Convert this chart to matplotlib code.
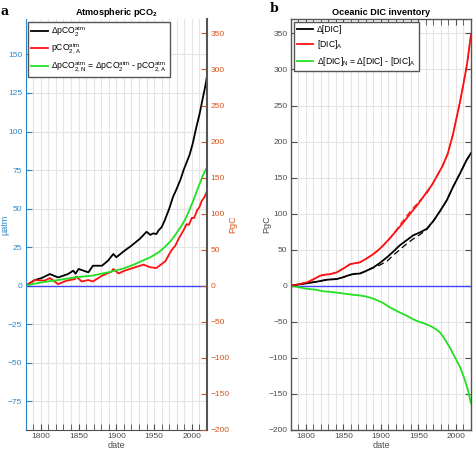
import numpy as np
import matplotlib
matplotlib.use("Agg")
import matplotlib.pyplot as plt
from matplotlib.ticker import MultipleLocator

plt.rcParams["font.family"] = ["Liberation Sans", "DejaVu Sans"]
plt.rcParams["mathtext.fontset"] = "custom"
plt.rcParams["mathtext.rm"] = "Liberation Sans"
plt.rcParams["mathtext.default"] = "regular"

# panel a: atmospheric pCO2 (uatm)
yr_dp = [1780, 1792, 1801, 1812, 1823, 1836, 1843, 1846, 1850, 1863, 1869, 1881, 1889, 1896,
         1900, 1911, 1920, 1931, 1940, 1945, 1949, 1953, 1956, 1960, 1964, 1970, 1975, 1980,
         1985, 1989, 1993, 1997, 2001, 2006, 2010, 2015, 2018, 2020]
dpco2 = [0, 3.7, 5.0, 7.6, 5.4, 7.6, 9.8, 7.8, 10.9, 8.7, 13.0, 13.0, 16.3, 20.6,
         18.5, 22.8, 26.0, 30.4, 35.0, 33.0, 34.0, 33.5, 36.0, 38.0, 42.4, 50.0, 57.6, 63.0,
         69.0, 75.0, 80.0, 85.0, 92.0, 103.0, 111.0, 123.0, 130.0, 136.0]

yr_dpn = [1780, 1790, 1801, 1812, 1823, 1834, 1845, 1856, 1867, 1878, 1889, 1900, 1911, 1922,
          1933, 1945, 1956, 1965, 1972, 1978, 1985, 1990, 1994, 2000, 2004, 2007, 2011, 2015,
          2020]
dpco2_n = [0, 1.2, 2.2, 3.0, 3.7, 4.6, 5.4, 6.0, 6.5, 7.6, 8.7, 10.0, 11.5, 13.5,
           15.9, 18.5, 21.7, 25.5, 29.0, 33.0, 38.0, 42.0, 46.0, 53.0, 58.0, 62.0, 67.0, 72.0,
           77.0]

yr_pa = [1780, 1792, 1805, 1812, 1823, 1834, 1845, 1847, 1854, 1863, 1869, 1881, 1894, 1896,
         1903, 1911, 1925, 1936, 1945, 1953, 1960, 1965, 1969, 1973, 1978, 1983, 1989, 1993,
         1996, 2000, 2003, 2007, 2010, 2013, 2016, 2020]
pco2_a = [0, 3.7, 3.3, 5.0, 1.1, 3.3, 4.3, 6.0, 2.8, 3.7, 2.8, 6.5, 9.3, 10.9,
          8.0, 9.8, 12.0, 13.7, 12.0, 11.5, 14.1, 16.0, 19.6, 23.0, 26.0, 31.0, 36.0, 40.0,
          39.5, 44.0, 44.0, 49.0, 51.0, 55.0, 57.0, 61.0]

# panel b: oceanic DIC inventory (PgC)
yr_dic = [1780, 1790, 1801, 1814, 1828, 1841, 1850, 1859, 1865, 1872, 1880, 1890, 1899, 1908,
          1916, 1925, 1934, 1943, 1952, 1961, 1970, 1979, 1988, 1996, 2005, 2014, 2020]
dic = [0, 1.8, 3.5, 5.6, 8.4, 9.3, 12.0, 15.3, 16.5, 17.0, 20.5, 25.5, 32.0, 39.5,
       47.0, 56.0, 63.0, 70.0, 74.0, 79.0, 90.0, 104.0, 119.0, 137.0, 155.0, 174.0, 184.0]
dic_model = [0, 1.8, 3.5, 5.6, 8.4, 9.3, 12.0, 15.3, 16.5, 17.0, 20.5, 25.0, 29.0, 34.0,
             42.0, 50.0, 58.0, 65.0, 71.0, 78.0, 90.0, 104.0, 119.0, 137.0, 155.0, 174.0, 184.0]

yr_dica = [1780, 1790, 1801, 1810, 1819, 1826, 1832, 1841, 1850, 1859, 1866, 1872, 1881, 1890,
           1897, 1903, 1912, 1921, 1930, 1939, 1950, 1961, 1968, 1974, 1982, 1989, 1996, 2005,
           2010, 2015, 2020]
dic_a = [0, 2.0, 4.6, 9.0, 14.0, 15.5, 16.0, 18.6, 24.0, 30.0, 31.5, 32.5, 38.0, 44.0,
         50.0, 56.0, 66.0, 77.0, 88.0, 100.0, 114.0, 130.0, 140.0, 151.0, 166.0, 183.0, 210.0,
         253.0, 280.0, 309.0, 348.0]
dic_a_model = [0, 2.0, 4.6, 9.0, 14.0, 15.5, 16.0, 18.6, 24.0, 30.0, 31.5, 32.5, 38.0, 44.0,
               50.0, 56.0, 66.0, 78.0, 91.0, 103.0, 116.0, 128.0, 140.0, 151.0, 166.0, 183.0,
               210.0, 253.0, 280.0, 309.0, 348.0]

yr_dicn = [1780, 1790, 1800, 1814, 1822, 1832, 1845, 1855, 1863, 1872, 1881, 1890, 1897, 1903,
           1912, 1921, 1928, 1935, 1942, 1948, 1957, 1966, 1973, 1979, 1985, 1992, 1999, 2006,
           2012, 2016, 2020]
dic_n = [0, -2.0, -4.0, -5.6, -7.5, -8.4, -10.0, -11.5, -12.5, -13.5, -15.0, -18.0, -21.0,
         -24.0, -30.0, -34.9, -38.5, -41.9, -46.0, -48.8, -52.0, -55.8, -60.0, -65.0, -74.0,
         -86.0, -100.0, -114.0, -131.0, -145.0, -163.0]

BLUE = "#2E86C8"
ORANGE = "#D95319"
GRAY = "#4d4d4d"
RED = "#FF1010"
GREEN = "#22E022"
ZERO = "#4444FF"
GRID = "#e4e4e4"

fig = plt.figure(figsize=(4.74, 4.51), dpi=100)
axa = fig.add_axes([0.0542, 0.0466, 0.3825, 0.9113])
axb = fig.add_axes([0.6139, 0.0466, 0.3797, 0.9113])

ratio = 2.139  # PgC per uatm
TS = 6.0
LS = 6.5

# ---- panel a ----
axa.plot([1780, 2020], [0, 0], color=ZERO, lw=1.0)
axa.plot(yr_dp, dpco2, color="k", lw=1.3, label=r"ΔpCO$_2^{atm}$")
axa.plot(yr_pa, pco2_a, color=RED, lw=1.3, label=r"pCO$_{2,A}^{atm}$")
axa.plot(yr_dpn, dpco2_n, color=GREEN, lw=1.3,
         label=r"ΔpCO$_{2,N}^{atm}$ = ΔpCO$_2^{atm}$ - pCO$_{2,A}^{atm}$")
axa.set_xlim(1780, 2020)
axa.set_ylim(-200 / ratio, 370 / ratio)
axa.set_yticks(np.arange(-75, 151, 25))
axa.xaxis.set_major_locator(MultipleLocator(50))
axa.xaxis.set_minor_locator(MultipleLocator(10))
axa.grid(True, which="both", axis="x", color=GRID, lw=0.8)
axa.grid(True, which="major", axis="y", color=GRID, lw=0.8)
axa.set_axisbelow(True)
axa.tick_params(axis="y", colors=BLUE, direction="in", labelsize=TS, length=4, pad=2.5)
axa.tick_params(axis="x", which="both", direction="in", labelsize=TS, colors=GRAY,
                length=4, pad=2)
axa.spines["left"].set_color(BLUE)
axa.spines["bottom"].set_color(GRAY)
axa.spines["top"].set_visible(False)
axa.spines["right"].set_visible(False)
axa.set_ylabel("µatm", color=BLUE, fontsize=LS)
axa.yaxis.set_label_coords(-0.089, 0.5)
axa.set_xlabel("date", color=GRAY, fontsize=LS)
axa.xaxis.set_label_coords(0.5, -0.027)
axa.set_title(r"Atmospheric pCO$_2$", fontsize=6.6, fontweight="bold", pad=3)

ax2 = axa.twinx()
ax2.set_ylim(-200, 370)
ax2.set_yticks(np.arange(-200, 351, 50))
ax2.tick_params(axis="y", colors=ORANGE, direction="in", labelsize=TS, length=4, pad=2.5)
ax2.spines["right"].set_color("#555555")
ax2.spines["right"].set_linewidth(1.5)
ax2.spines["left"].set_visible(False)
ax2.spines["top"].set_visible(False)
ax2.spines["bottom"].set_visible(False)
ax2.set_ylabel("PgC", color=ORANGE, fontsize=LS)
ax2.yaxis.set_label_coords(1.118, 0.5)

leg = axa.legend(loc="upper left", fontsize=6.2, frameon=True, fancybox=False,
                 handlelength=1.9, handletextpad=0.4, borderpad=0.35, labelspacing=0.4,
                 borderaxespad=0.3)
leg.get_frame().set_edgecolor("#555555")
leg.get_frame().set_linewidth(1.0)
leg.get_frame().set_alpha(1)

# ---- panel b ----
axb.plot([1780, 2020], [0, 0], color=ZERO, lw=1.0)
axb.plot(yr_dic, dic, color="k", lw=1.3, label="Δ[DIC]")
axb.plot(yr_dica, dic_a, color=RED, lw=1.3, label="[DIC]$_A$")
axb.plot(yr_dicn, dic_n, color=GREEN, lw=1.3, label="Δ[DIC]$_N$ = Δ[DIC] - [DIC]$_A$")
axb.plot(yr_dic, dic_model, color="k", lw=0.9, ls=(0, (5, 3)))
axb.plot(yr_dica, dic_a_model, color=RED, lw=0.9, ls=(0, (5, 3)))
axb.set_xlim(1780, 2020)
axb.set_ylim(-200, 370)
axb.set_yticks(np.arange(-200, 351, 50))
axb.xaxis.set_major_locator(MultipleLocator(50))
axb.xaxis.set_minor_locator(MultipleLocator(10))
axb.grid(True, which="both", axis="x", color=GRID, lw=0.8)
axb.grid(True, which="major", axis="y", color=GRID, lw=0.8)
axb.set_axisbelow(True)
axb.tick_params(axis="both", which="both", direction="in", labelsize=TS, colors=GRAY,
                length=4, top=True, right=True, pad=2.5)
axb.tick_params(axis="x", pad=2)
for s in axb.spines.values():
    s.set_color("#555555")
    s.set_linewidth(1.0)
axb.set_ylabel("PgC", color=GRAY, fontsize=LS)
axb.yaxis.set_label_coords(-0.111, 0.5)
axb.set_xlabel("date", color=GRAY, fontsize=LS)
axb.xaxis.set_label_coords(0.5, -0.027)
axb.set_title("Oceanic DIC inventory", fontsize=6.6, fontweight="bold", pad=3)

legb = axb.legend(loc="upper left", fontsize=6.2, frameon=True, fancybox=False,
                  handlelength=1.9, handletextpad=0.4, borderpad=0.35, labelspacing=0.45,
                  borderaxespad=0.35)
legb.get_frame().set_edgecolor("#555555")
legb.get_frame().set_linewidth(1.0)
legb.get_frame().set_alpha(1)

fig.text(0.002, 0.99, "a", fontsize=9, fontweight="bold", family="DejaVu Serif", va="top")
fig.text(0.568, 0.995, "b", fontsize=9, fontweight="bold", family="DejaVu Serif", va="top")

fig.savefig("out.png", dpi=100)
